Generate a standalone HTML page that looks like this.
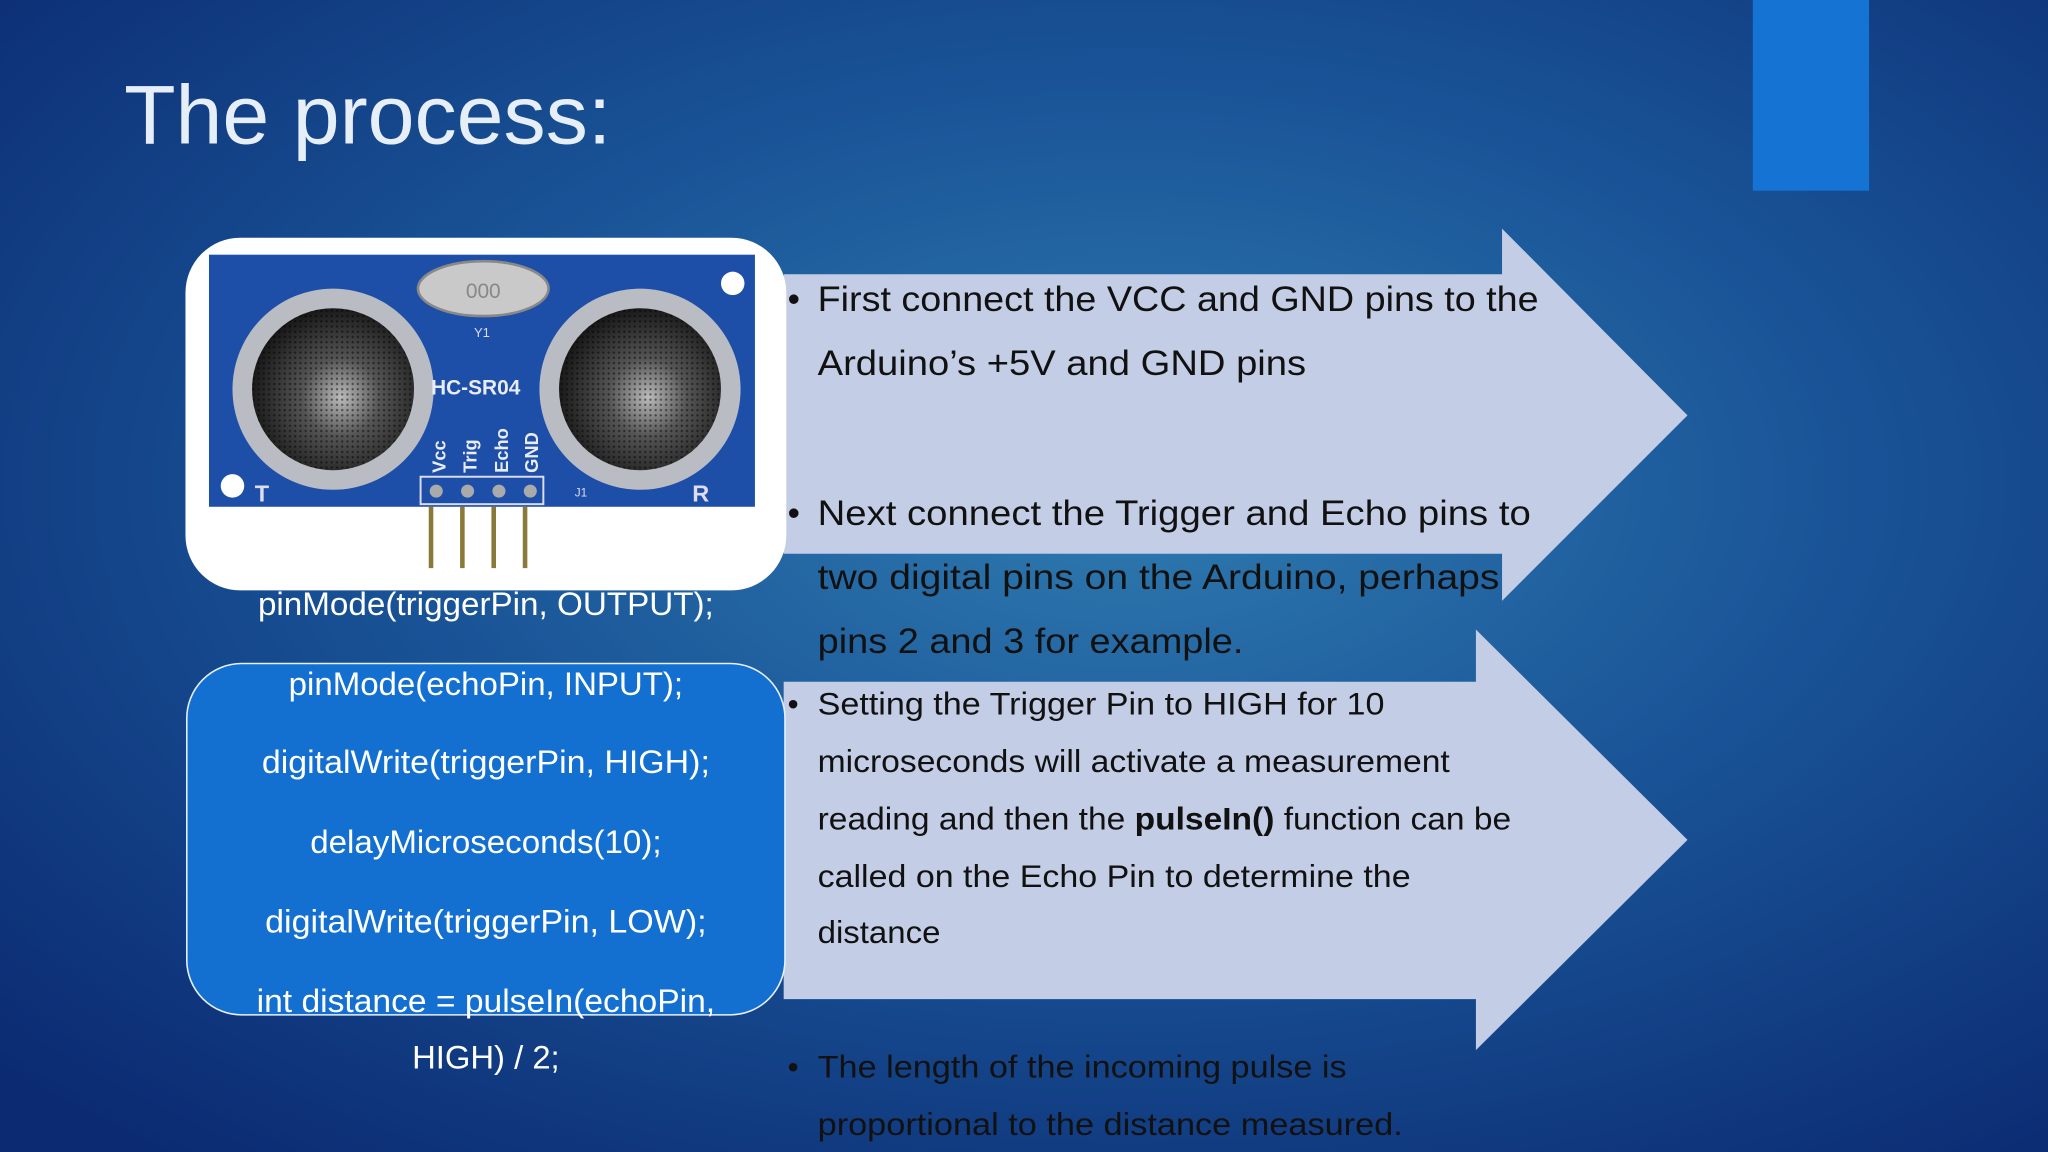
<!DOCTYPE html>
<html><head><meta charset="utf-8"><style>
html,body{margin:0;padding:0;width:2048px;height:1152px;overflow:hidden;background:#0d2f78}
svg{display:block}
</style></head><body>
<svg width="2048" height="1152" viewBox="0 0 1568 882" xmlns="http://www.w3.org/2000/svg" font-family="'Liberation Sans', sans-serif">
<defs>
<radialGradient id="bg" cx="0.55" cy="0.42" r="0.75">
<stop offset="0" stop-color="#2f7bb0"/>
<stop offset="0.45" stop-color="#1a5598"/>
<stop offset="1" stop-color="#0b2a72"/>
</radialGradient>
<radialGradient id="cone" cx="0.55" cy="0.55" r="0.6">
<stop offset="0" stop-color="#bbb"/>
<stop offset="0.4" stop-color="#555"/>
<stop offset="1" stop-color="#111"/>
</radialGradient>
<pattern id="mesh" width="4" height="4" patternUnits="userSpaceOnUse">
<rect width="4" height="4" fill="none"/><circle cx="2" cy="2" r="0.9" fill="#000" opacity="0.5"/>
</pattern>
</defs>
<rect width="1568" height="882" fill="url(#bg)"/>
<rect x="1342" y="0" width="89" height="146" fill="#1573d4"/>
<text x="95" y="110" font-size="64" fill="#e6eef8" textLength="373" lengthAdjust="spacingAndGlyphs">The process:</text>

<polygon points="600,210 1150,210 1150,175 1292,318 1150,460 1150,424 600,424" fill="#c3cde5"/>
<polygon points="600,522 1130,522 1130,482 1292,643 1130,804 1130,765 600,765" fill="#c3cde5"/>

<rect x="142" y="182" width="460" height="270" rx="42" fill="#fff"/>
<rect x="160" y="195" width="418" height="193" fill="#1d4ea8"/>
<ellipse cx="370" cy="221" rx="50" ry="21" fill="#c9c9c9" stroke="#888" stroke-width="2"/>
<text x="370" y="228" font-size="16" fill="#888" text-anchor="middle">000</text>
<text x="369" y="258" font-size="10" fill="#dde" text-anchor="middle">Y1</text>
<g>
<circle cx="255" cy="298" r="77" fill="#b9bcc2"/>
<circle cx="255" cy="298" r="62" fill="url(#cone)"/>
<circle cx="255" cy="298" r="62" fill="url(#mesh)"/>
<circle cx="490" cy="298" r="77" fill="#b9bcc2"/>
<circle cx="490" cy="298" r="62" fill="url(#cone)"/>
<circle cx="490" cy="298" r="62" fill="url(#mesh)"/>
</g>
<text x="330" y="302" font-size="16" font-weight="bold" fill="#e8ecf4">HC-SR04</text>
<g font-size="14" fill="#e8ecf4" font-weight="bold">
<text transform="translate(341,362) rotate(-90)">Vcc</text>
<text transform="translate(365,362) rotate(-90)">Trig</text>
<text transform="translate(389,362) rotate(-90)">Echo</text>
<text transform="translate(412,362) rotate(-90)">GND</text>
</g>
<rect x="322" y="365" width="94" height="21" fill="none" stroke="#dde" stroke-width="1.5"/>
<g fill="#aaa"><circle cx="334" cy="376" r="5"/><circle cx="358" cy="376" r="5"/><circle cx="382" cy="376" r="5"/><circle cx="406" cy="376" r="5"/></g>
<circle cx="178" cy="372" r="9" fill="#fff"/>
<circle cx="561" cy="217" r="9" fill="#fff"/>
<text x="195" y="384" font-size="18" fill="#dde" font-weight="bold">T</text>
<text x="530" y="384" font-size="18" fill="#dde" font-weight="bold">R</text>
<text x="440" y="380" font-size="9" fill="#dde">J1</text>
<g stroke="#8a7a3a" stroke-width="3.5"><line x1="330" y1="388" x2="330" y2="435"/><line x1="354" y1="388" x2="354" y2="435"/><line x1="378" y1="388" x2="378" y2="435"/><line x1="402" y1="388" x2="402" y2="435"/></g>

<rect x="143" y="508" width="458" height="269" rx="42" fill="#1470d0" stroke="#e8f0fa" stroke-width="1.2"/>
<g font-size="25" fill="#fff" text-anchor="middle">
<text x="372" y="471" textLength="349" lengthAdjust="spacingAndGlyphs">pinMode(triggerPin, OUTPUT);</text>
<text x="372" y="532" textLength="302" lengthAdjust="spacingAndGlyphs">pinMode(echoPin, INPUT);</text>
<text x="372" y="592" textLength="343" lengthAdjust="spacingAndGlyphs">digitalWrite(triggerPin, HIGH);</text>
<text x="372" y="653" textLength="269" lengthAdjust="spacingAndGlyphs">delayMicroseconds(10);</text>
<text x="372" y="714" textLength="338" lengthAdjust="spacingAndGlyphs">digitalWrite(triggerPin, LOW);</text>
<text x="372" y="775" textLength="351" lengthAdjust="spacingAndGlyphs">int distance = pulseIn(echoPin,</text>
<text x="372" y="818" textLength="113" lengthAdjust="spacingAndGlyphs">HIGH) / 2;</text>
</g>

<g fill="#111">
<g font-size="27">
<text x="603" y="238">•</text>
<text x="626" y="238" textLength="552" lengthAdjust="spacingAndGlyphs">First connect the VCC and GND pins to the</text>
<text x="626" y="287" textLength="374" lengthAdjust="spacingAndGlyphs">Arduino’s +5V and GND pins</text>
<text x="603" y="402">•</text>
<text x="626" y="402" textLength="546" lengthAdjust="spacingAndGlyphs">Next connect the Trigger and Echo pins to</text>
<text x="626" y="451" textLength="522" lengthAdjust="spacingAndGlyphs">two digital pins on the Arduino, perhaps</text>
<text x="626" y="500" textLength="326" lengthAdjust="spacingAndGlyphs">pins 2 and 3 for example.</text>
</g>
<g font-size="24">
<text x="603" y="547">•</text>
<text x="626" y="547" textLength="434" lengthAdjust="spacingAndGlyphs">Setting the Trigger Pin to HIGH for 10</text>
<text x="626" y="591" textLength="484" lengthAdjust="spacingAndGlyphs">microseconds will activate a measurement</text>
<text x="626" y="635" textLength="531" lengthAdjust="spacingAndGlyphs">reading and then the <tspan font-weight="bold">pulseIn()</tspan> function can be</text>
<text x="626" y="679" textLength="454" lengthAdjust="spacingAndGlyphs">called on the Echo Pin to determine the</text>
<text x="626" y="722" textLength="94" lengthAdjust="spacingAndGlyphs">distance</text>
<text x="603" y="825">•</text>
<text x="626" y="825" textLength="405" lengthAdjust="spacingAndGlyphs">The length of the incoming pulse is</text>
<text x="626" y="869" textLength="448" lengthAdjust="spacingAndGlyphs">proportional to the distance measured.</text>
</g>
</g>
</svg>
</body></html>
